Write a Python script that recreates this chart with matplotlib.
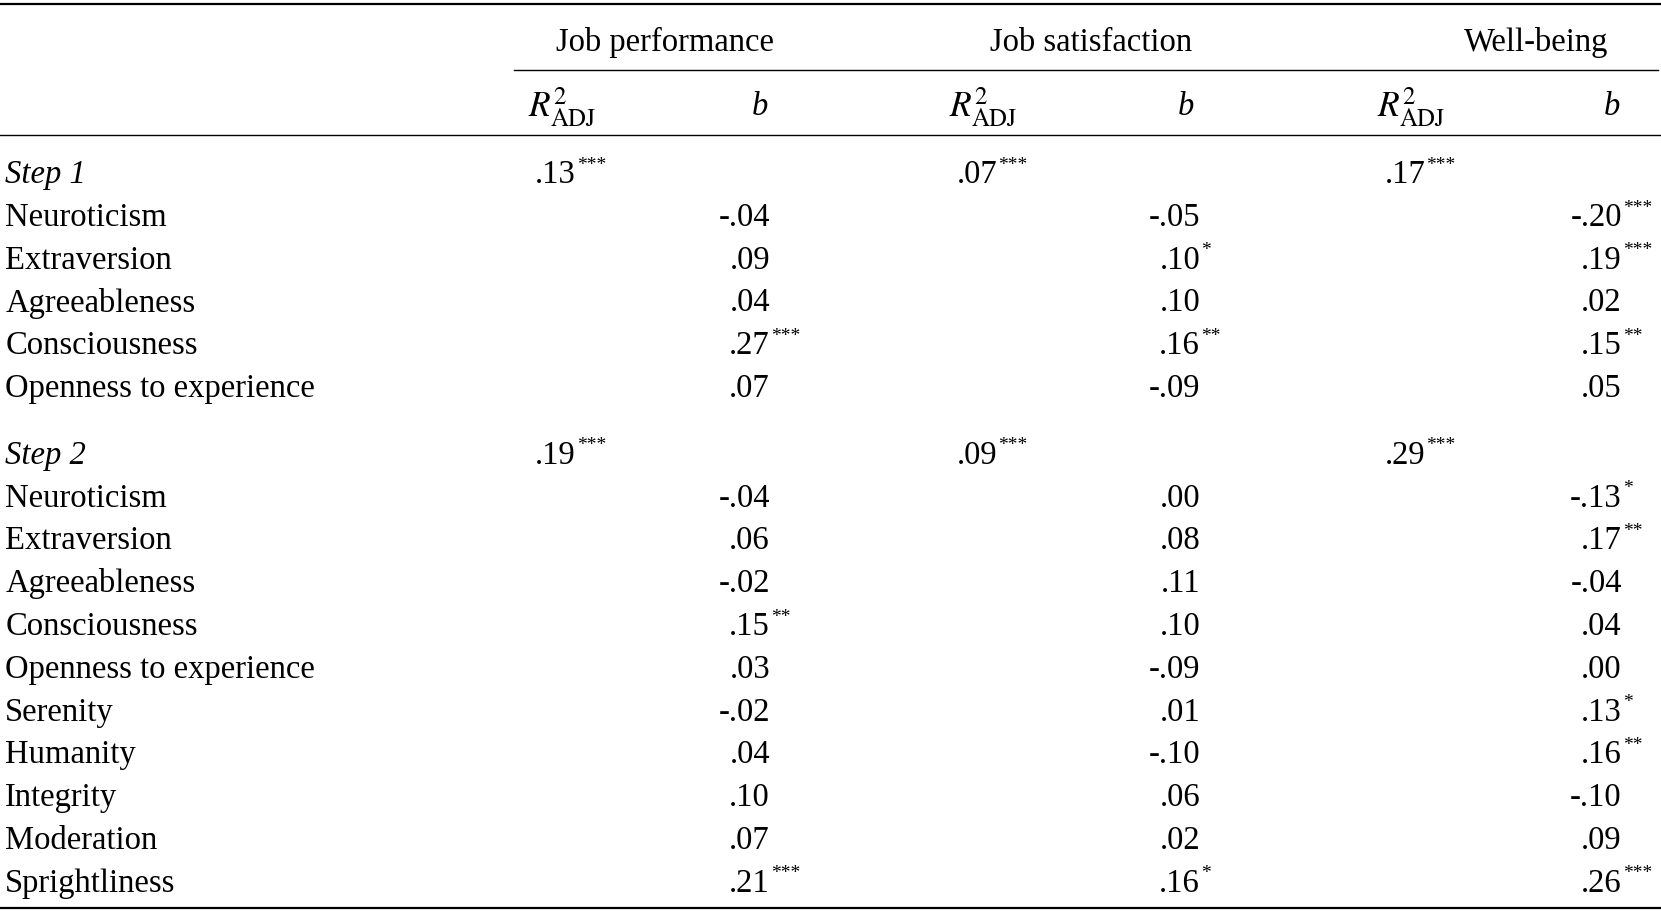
import matplotlib
matplotlib.use("Agg")
import matplotlib.pyplot as plt

plt.rcParams['font.family'] = ['Liberation Serif', 'DejaVu Serif']
plt.rcParams['mathtext.fontset'] = 'stix'

groups = ["Job performance", "Job satisfaction", "Well-being"]
step1_r2 = [".13***", ".07***", ".17***"]
step2_r2 = [".19***", ".09***", ".29***"]
step1_labels = ["Neuroticism", "Extraversion", "Agreeableness", "Consciousness", "Openness to experience"]
step1_b = [
    ["-.04", "-.05", "-.20***"],
    [".09", ".10*", ".19***"],
    [".04", ".10", ".02"],
    [".27***", ".16**", ".15**"],
    [".07", "-.09", ".05"],
]
step2_labels = ["Neuroticism", "Extraversion", "Agreeableness", "Consciousness", "Openness to experience",
                "Serenity", "Humanity", "Integrity", "Moderation", "Sprightliness"]
step2_b = [
    ["-.04", ".00", "-.13*"],
    [".06", ".08", ".17**"],
    ["-.02", ".11", "-.04"],
    [".15**", ".10", ".04"],
    [".03", "-.09", ".00"],
    ["-.02", ".01", ".13*"],
    [".04", "-.10", ".16**"],
    [".10", ".06", "-.10"],
    [".07", ".02", ".09"],
    [".21***", ".16*", ".26***"],
]

W, H = 1661, 920
fig = plt.figure(figsize=(W/100, H/100), dpi=100)
ax = fig.add_axes([0, 0, 1, 1])
XW = 1568
ax.set_xlim(0, XW); ax.set_ylim(XW * H / W, 0); ax.axis('off')
FS = 23.5
SFS = 14

r2_x = [505, 903, 1307]
b_x = [727, 1133, 1531]
grp_x = [628, 1030, 1450]
bh_x = [717, 1120, 1522]

fig.canvas.draw()
renderer = fig.canvas.get_renderer()
inv = ax.transData.inverted()

def val(x, y, s, ha='right'):
    num = s.rstrip('*'); st = s[len(num):]
    t = ax.text(x, y, num, fontsize=FS, ha=ha, va='center')
    if ha == 'left':
        bb = t.get_window_extent(renderer=renderer)
        xe = inv.transform((bb.x1, bb.y0))[0]
    else:
        xe = x
    if st:
        ax.text(xe + 1, y - 9, st, fontsize=SFS, ha='left', va='center')

ax.plot([0, XW], [5, 5], color='black', lw=1.6)
ax.plot([485, 1565], [67, 67], color='black', lw=1)
ax.plot([0, XW], [128, 128], color='black', lw=1)
ax.plot([0, XW], [858, 858], color='black', lw=1.6)

for g, x in zip(groups, grp_x):
    ax.text(x, 40, g, fontsize=FS, ha='center', va='center')
for i in range(3):
    ax.text(r2_x[i] - 7, 102, r"$R^{2}_{\mathrm{ADJ}}$", fontsize=FS + 2, ha='left', va='center')
    ax.text(bh_x[i], 101, "b", fontsize=FS, ha='center', va='center', style='italic')

step = 40.4
y = 165
ax.text(5, y, "Step 1", fontsize=FS, style='italic', va='center')
for i in range(3):
    val(r2_x[i], y, step1_r2[i], ha='left')
for lab, row in zip(step1_labels, step1_b):
    y += step
    ax.text(5, y, lab, fontsize=FS, va='center')
    for i in range(3):
        val(b_x[i], y, row[i])

y = 430
ax.text(5, y, "Step 2", fontsize=FS, style='italic', va='center')
for i in range(3):
    val(r2_x[i], y, step2_r2[i], ha='left')
for lab, row in zip(step2_labels, step2_b):
    y += step
    ax.text(5, y, lab, fontsize=FS, va='center')
    for i in range(3):
        val(b_x[i], y, row[i])

fig.savefig("out.png", dpi=100)
